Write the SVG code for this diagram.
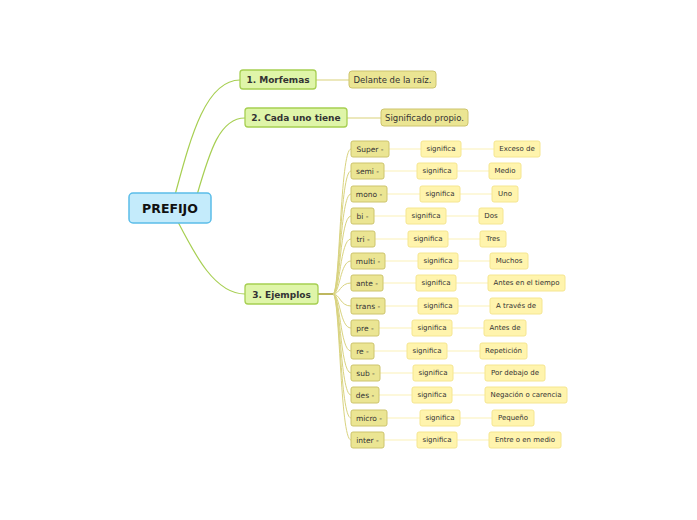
<svg xmlns="http://www.w3.org/2000/svg" width="697" height="520" viewBox="0 0 697 520">
<style>
text{font-family:"DejaVu Sans",Verdana,sans-serif;fill:#333;text-anchor:middle;dominant-baseline:central}
.g rect{fill:#dff5a9;stroke:#a7cf52;stroke-width:1.3}
.g text{font-size:9px;font-weight:bold}
.p rect{fill:#ebe593;stroke:#cdc46c}
.p text{font-size:7.5px}
.s rect{fill:#fff4ad;stroke:#f5e690}
.s text{font-size:7px}
.d rect{fill:#ebe593;stroke:#cdc46c}
.d text{font-size:8.5px}
.c path{fill:none}
</style>
<g class="c">
<path d="M175,195 C190,140 205,80 240,80 M197,195 C210,150 220,118 245,118 M178,222 C195,255 215,294 245,294" stroke="#a7cf52" stroke-width="1.2"/>
<path d="M316,80 H349 M347,118 H381" stroke="#e6e1a6" stroke-width="1.5"/>
<path d="M318,294 H333" stroke="#a99f2a" stroke-width="1.5"/>
<g stroke="#d9d37f" stroke-width="1">
<path d="M333,294 C340,294 340,149 351,149"/><path d="M333,294 C340,294 340,171 351,171"/><path d="M333,294 C340,294 340,194 351,194"/><path d="M333,294 C340,294 340,216 351,216"/><path d="M333,294 C340,294 340,239 351,239"/><path d="M333,294 C340,294 340,261 351,261"/><path d="M333,294 C340,294 340,283 351,283"/><path d="M333,294 C340,294 340,306 351,306"/><path d="M333,294 C340,294 340,328 351,328"/><path d="M333,294 C340,294 340,351 351,351"/><path d="M333,294 C340,294 340,373 351,373"/><path d="M333,294 C340,294 340,395 351,395"/><path d="M333,294 C340,294 340,418 351,418"/><path d="M333,294 C340,294 340,440 351,440"/>
</g>
<g stroke="#fbf1b8" stroke-width="1.2">
<path d="M389,149H494"/><path d="M384,171H489"/><path d="M387,194H492"/><path d="M374,216H479"/><path d="M375,239H480"/><path d="M385,261H490"/><path d="M383,283H488"/><path d="M385,306H490"/><path d="M379,328H484"/><path d="M374,351H480"/><path d="M380,373H485"/><path d="M379,395H485"/><path d="M387,418H492"/><path d="M384,440H489"/>
</g>
</g>
<g id="root"><rect x="129" y="193" width="82" height="30" rx="4" fill="#c4ebfb" stroke="#5bbde9" stroke-width="1.5"/><text x="170" y="208.5" font-size="12.5" font-weight="bold" style="fill:#111">PREFIJO</text></g>
<g id="n1" class="g"><rect x="240" y="70" width="76" height="19" rx="3"/><text x="278" y="80">1. Morfemas</text></g>
<g id="n2" class="g"><rect x="245" y="108" width="102" height="19" rx="3"/><text x="296" y="118">2. Cada uno tiene</text></g>
<g id="n3" class="g"><rect x="245" y="284" width="73" height="20" rx="3"/><text x="281.5" y="294.5">3. Ejemplos</text></g>
<g id="d1" class="d"><rect x="349" y="71" width="87" height="17" rx="3"/><text x="392.5" y="80">Delante de la raíz.</text></g>
<g id="d2" class="d"><rect x="381" y="109" width="87" height="17" rx="3"/><text x="424.5" y="118">Significado propio.</text></g>
<g id="p1" class="p"><rect x="351" y="141" width="38" height="16" rx="2"/><text x="370" y="149">Super -</text></g>
<g id="p2" class="p"><rect x="351" y="163" width="33" height="16" rx="2"/><text x="367.5" y="171">semi -</text></g>
<g id="p3" class="p"><rect x="351" y="186" width="36" height="16" rx="2"/><text x="369" y="194">mono -</text></g>
<g id="p4" class="p"><rect x="351" y="208" width="23" height="16" rx="2"/><text x="362.5" y="216">bi -</text></g>
<g id="p5" class="p"><rect x="351" y="231" width="24" height="16" rx="2"/><text x="363" y="239">tri -</text></g>
<g id="p6" class="p"><rect x="351" y="253" width="34" height="16" rx="2"/><text x="368" y="261">multi -</text></g>
<g id="p7" class="p"><rect x="351" y="275" width="32" height="16" rx="2"/><text x="367" y="283">ante -</text></g>
<g id="p8" class="p"><rect x="351" y="298" width="34" height="16" rx="2"/><text x="368" y="306">trans -</text></g>
<g id="p9" class="p"><rect x="351" y="320" width="28" height="16" rx="2"/><text x="365" y="328">pre -</text></g>
<g id="p10" class="p"><rect x="351" y="343" width="23" height="16" rx="2"/><text x="362.5" y="351">re -</text></g>
<g id="p11" class="p"><rect x="351" y="365" width="29" height="16" rx="2"/><text x="365.5" y="373">sub -</text></g>
<g id="p12" class="p"><rect x="351" y="387" width="28" height="16" rx="2"/><text x="365" y="395">des -</text></g>
<g id="p13" class="p"><rect x="351" y="410" width="36" height="16" rx="2"/><text x="369" y="418">micro -</text></g>
<g id="p14" class="p"><rect x="351" y="432" width="33" height="16" rx="2"/><text x="367.5" y="440">inter -</text></g>
<g class="s">
<g id="s1"><rect x="421" y="141" width="40" height="16" rx="2"/><text x="441" y="149">significa</text></g>
<g id="s2"><rect x="417" y="163" width="40" height="16" rx="2"/><text x="437" y="171">significa</text></g>
<g id="s3"><rect x="420" y="186" width="40" height="16" rx="2"/><text x="440" y="194">significa</text></g>
<g id="s4"><rect x="406" y="208" width="40" height="16" rx="2"/><text x="426" y="216">significa</text></g>
<g id="s5"><rect x="408" y="231" width="40" height="16" rx="2"/><text x="428" y="239">significa</text></g>
<g id="s6"><rect x="418" y="253" width="40" height="16" rx="2"/><text x="438" y="261">significa</text></g>
<g id="s7"><rect x="416" y="275" width="40" height="16" rx="2"/><text x="436" y="283">significa</text></g>
<g id="s8"><rect x="418" y="298" width="40" height="16" rx="2"/><text x="438" y="306">significa</text></g>
<g id="s9"><rect x="412" y="320" width="40" height="16" rx="2"/><text x="432" y="328">significa</text></g>
<g id="s10"><rect x="407" y="343" width="40" height="16" rx="2"/><text x="427" y="351">significa</text></g>
<g id="s11"><rect x="413" y="365" width="40" height="16" rx="2"/><text x="433" y="373">significa</text></g>
<g id="s12"><rect x="412" y="387" width="40" height="16" rx="2"/><text x="432" y="395">significa</text></g>
<g id="s13"><rect x="420" y="410" width="40" height="16" rx="2"/><text x="440" y="418">significa</text></g>
<g id="s14"><rect x="417" y="432" width="40" height="16" rx="2"/><text x="437" y="440">significa</text></g>
<g id="v1"><rect x="494" y="141" width="46" height="16" rx="2"/><text x="517" y="149">Exceso de</text></g>
<g id="v2"><rect x="489" y="163" width="32" height="16" rx="2"/><text x="505" y="171">Medio</text></g>
<g id="v3"><rect x="492" y="186" width="26" height="16" rx="2"/><text x="505" y="194">Uno</text></g>
<g id="v4"><rect x="479" y="208" width="24" height="16" rx="2"/><text x="491" y="216">Dos</text></g>
<g id="v5"><rect x="480" y="231" width="26" height="16" rx="2"/><text x="493" y="239">Tres</text></g>
<g id="v6"><rect x="490" y="253" width="38" height="16" rx="2"/><text x="509" y="261">Muchos</text></g>
<g id="v7"><rect x="488" y="275" width="77" height="16" rx="2"/><text x="526.5" y="283">Antes en el tiempo</text></g>
<g id="v8"><rect x="490" y="298" width="52" height="16" rx="2"/><text x="516" y="306">A través de</text></g>
<g id="v9"><rect x="484" y="320" width="42" height="16" rx="2"/><text x="505" y="328">Antes de</text></g>
<g id="v10"><rect x="480" y="343" width="47" height="16" rx="2"/><text x="503.5" y="351">Repetición</text></g>
<g id="v11"><rect x="485" y="365" width="60" height="16" rx="2"/><text x="515" y="373">Por debajo de</text></g>
<g id="v12"><rect x="485" y="387" width="82" height="16" rx="2"/><text x="526" y="395">Negación o carencia</text></g>
<g id="v13"><rect x="492" y="410" width="42" height="16" rx="2"/><text x="513" y="418">Pequeño</text></g>
<g id="v14"><rect x="489" y="432" width="72" height="16" rx="2"/><text x="525" y="440">Entre o en medio</text></g>
</g>
</svg>
